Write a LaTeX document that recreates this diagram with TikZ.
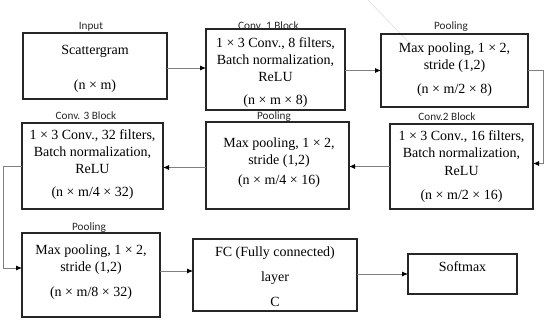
\documentclass[tikz,border=0pt]{standalone}
\usepackage{fontspec}
\setmainfont{Liberation Serif}
\newfontfamily\lblfont{Carlito}
\usetikzlibrary{arrows.meta}
\tikzset{
  box/.style={draw=black!85, line width=1.1pt, rectangle, inner sep=0pt, outer sep=0pt},
  txt/.style={inner sep=0pt, outer sep=0pt, align=center, anchor=north, font=\fontsize{14}{17}\selectfont},
  lbl/.style={inner sep=0pt, font=\lblfont\fontsize{11.2}{13}\selectfont, text=black!85},
  conn/.style={draw=black!50, line width=0.8pt, -{Latex[length=6pt,width=5pt,color=black]}}
}
\begin{document}
\begin{tikzpicture}[x=1pt,y=-1pt]
\useasboundingbox (0,0) rectangle (550,323);
% faint artifact line
\path[draw=black!10, line width=0.8pt] (368,0) -- (421,55);
% boxes
\node[box, minimum width=144pt, minimum height=66pt] (inp) at (95,66) {};
\node[box, minimum width=139pt, minimum height=81pt] (conv1) at (275.5,69.5) {};
\node[box, minimum width=147pt, minimum height=73pt] (pool1) at (454.5,70.5) {};
\node[box, minimum width=143pt, minimum height=85pt] (conv2) at (461.5,166.5) {};
\node[box, minimum width=143pt, minimum height=87pt] (pool2) at (277.5,165.5) {};
\node[box, minimum width=141pt, minimum height=86pt] (conv3) at (92.5,166) {};
\node[box, minimum width=138pt, minimum height=84pt] (pool3) at (91,275) {};
\node[box, minimum width=164pt, minimum height=72pt] (fc) at (275,275) {};
\node[box, minimum width=109pt, minimum height=40pt] (soft) at (462.5,274) {};
% texts
\node[txt] (inpT) at (95,45) {Scattergram\\[18pt](n × m)};
\node[txt] (conv1T) at (275.5,38) {1 × 3 Conv., 8 filters,\\Batch normalization,\\ReLU\\[6pt](n × m × 8)};
\node[txt] (pool1T) at (454.5,43) {Max pooling, 1 × 2,\\stride (1,2)\\[7pt](n × m/2 × 8)};
\node[txt] (conv2T) at (461.5,131) {1 × 3 Conv., 16 filters,\\Batch normalization,\\[1pt]ReLU\\[7pt](n × m/2 × 16)};
\node[txt] (pool2T) at (279,138) {Max pooling, 1 × 2,\\stride (1,2)\\[3pt](n × m/4 × 16)};
\node[txt] (conv3T) at (92.5,130) {1 × 3 Conv., 32 filters,\\Batch normalization,\\ReLU\\[6pt](n × m/4 × 32)};
\node[txt] (pool3T) at (91,245) {Max pooling, 1 × 2,\\stride (1,2)\\[8pt](n × m/8 × 32)};
\node[txt] (fcT) at (275,247) {FC (Fully connected)\\[8pt]layer\\[8pt]C};
\node[txt] (softT) at (462.5,262) {Softmax};
% labels
\node[lbl] (inpL) at (91,26.5) {Input};
\node[lbl] (conv1L) at (268.5,26) {Conv. 1 Block};
\node[lbl] (pool1L) at (451,27) {Pooling};
\node[lbl] (conv2L) at (447,116.5) {Conv.2 Block};
\node[lbl] (pool2L) at (274,116.5) {Pooling};
\node[lbl] (conv3L) at (86,116) {Conv. 3 Block};
\node[lbl] (pool3L) at (89,228) {Pooling};
% connectors
\draw[conn] ([yshift=-2pt]inp.east) -- ([yshift=-2pt]inp.east -| conv1.west);
\draw[conn] (pool1.west -| conv1.east) -- (pool1.west);
\draw[conn] (pool1.east) -- ++(15,0) |- ([yshift=3pt]conv2.east);
\draw[conn] (conv2.west) -- (conv2.west -| pool2.east);
\draw[conn] ([yshift=-2pt]pool2.west) -- ([yshift=-2pt]pool2.west -| conv3.east);
\draw[conn] (conv3.west) -- ++(-19,0) |- ([yshift=7pt]pool3.west);
\draw[conn] ([yshift=4pt]pool3.east) -- ([yshift=4pt]pool3.east -| fc.west);
\draw[conn] (soft.west -| fc.east) -- (soft.west);
\end{tikzpicture}
\end{document}
